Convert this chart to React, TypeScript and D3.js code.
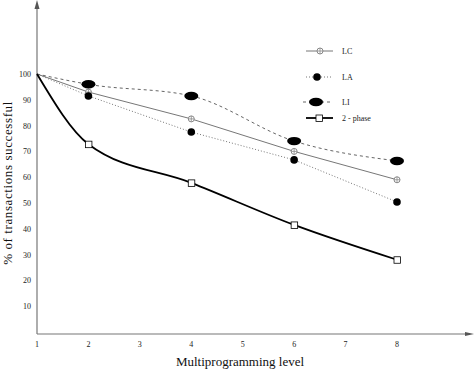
import React from "react";
import * as d3 from "d3";

const levels = [1, 2, 4, 6, 8];
const lcValues = [100, 93, 82.6, 70, 59];
const laValues = [100, 91.5, 77.5, 66.7, 50.4];
const liValues = [100, 96, 91.5, 74, 66.3];
const twoPhaseValues = [100, 72.8, 57.8, 41.5, 28];
const xTicks = [1, 2, 3, 4, 5, 6, 7, 8];
const yTicks = [10, 20, 30, 40, 50, 60, 70, 80, 90, 100];
const legendLabels = ["LC", "LA", "LI", "2 - phase"];

export default function App() {
  const W = 474, H = 369;
  const x = d3.scaleLinear().domain([1, 8]).range([37, 397]);
  const y = d3.scaleLinear().domain([0, 100]).range([332, 74]);
  const axisY = 334;
  const axisX = 37;

  const pts = (vals: number[]) => levels.map((l, i) => [x(l), y(vals[i])] as [number, number]);
  const straight = d3.line();
  const smooth = d3.line().curve(d3.curveMonotoneX);

  const serif = "'Liberation Serif', 'DejaVu Serif', serif";

  const lcMarker = (cx: number, cy: number, k: number) => (
    <g key={k}>
      <circle cx={cx} cy={cy} r={3} fill="white" stroke="#888" strokeWidth={1} />
      <line x1={cx - 3} x2={cx + 3} y1={cy} y2={cy} stroke="#888" strokeWidth={0.8} />
      <line x1={cx} x2={cx} y1={cy - 3} y2={cy + 3} stroke="#888" strokeWidth={0.8} />
    </g>
  );
  const laMarker = (cx: number, cy: number, k: number) => (
    <circle key={k} cx={cx} cy={cy} r={3.8} fill="black" />
  );
  const liMarker = (cx: number, cy: number, k: number) => (
    <ellipse key={k} cx={cx} cy={cy} rx={7} ry={4.2} fill="black" />
  );
  const sqMarker = (cx: number, cy: number, k: number) => (
    <rect key={k} x={cx - 3} y={cy - 3} width={6.5} height={6.5} fill="white" stroke="black" strokeWidth={0.8} />
  );

  const lcPts = pts(lcValues);
  const laPts = pts(laValues);
  const liPts = pts(liValues);
  const tpPts = pts(twoPhaseValues);

  const legendY = [51, 77, 102, 118];

  return (
    <svg width={W} height={H} style={{ position: "absolute", left: 0, top: 0 }}>
      <rect width={W} height={H} fill="white" />
      <line x1={axisX} x2={axisX} y1={4} y2={axisY} stroke="#777" strokeWidth={1.2} />
      <path d={`M${axisX - 2.5},9 L${axisX},0 L${axisX + 2.5},9 Z`} fill="#555" />
      <line x1={axisX} x2={470} y1={axisY} y2={axisY} stroke="#777" strokeWidth={1.2} />
      <path d={`M465,${axisY - 2} L474,${axisY} L465,${axisY + 2} Z`} fill="#555" />

      {yTicks.map((t) => (
        <text key={t} x={31} y={y(t) + 3} fontSize={8} fontFamily={serif} textAnchor="end" fill="#222">
          {t}
        </text>
      ))}
      {xTicks.map((t) => (
        <text key={t} x={x(t)} y={347} fontSize={8} fontFamily={serif} textAnchor="middle" fill="#222">
          {t}
        </text>
      ))}

      <text x={240} y={366} fontSize={13} fontFamily={serif} textAnchor="middle" fill="#111">
        Multiprogramming level
      </text>
      <text
        transform={`translate(12,183) rotate(-90)`}
        fontSize={13}
        fontFamily={serif}
        textAnchor="middle"
        fill="#111"
        letterSpacing={0.6}
      >
        % of transactions successful
      </text>

      <path d={straight(lcPts) || ""} fill="none" stroke="#777" strokeWidth={1} />
      <path d={straight(laPts) || ""} fill="none" stroke="#777" strokeWidth={1} strokeDasharray="1,2" />
      <path d={smooth(liPts) || ""} fill="none" stroke="#666" strokeWidth={1} strokeDasharray="3,3" />
      <path d={smooth(tpPts) || ""} fill="none" stroke="black" strokeWidth={1.8} />

      {lcPts.slice(1).map((p, i) => lcMarker(p[0], p[1], i))}
      {laPts.slice(1).map((p, i) => laMarker(p[0], p[1], i))}
      {liPts.slice(1).map((p, i) => liMarker(p[0], p[1], i))}
      {tpPts.slice(1).map((p, i) => sqMarker(p[0], p[1], i))}

      <line x1={306} x2={333} y1={legendY[0]} y2={legendY[0]} stroke="#777" strokeWidth={1} />
      {lcMarker(320, legendY[0], 100)}
      <line x1={306} x2={333} y1={legendY[1]} y2={legendY[1]} stroke="#777" strokeWidth={1} strokeDasharray="1,2" />
      {laMarker(317, legendY[1], 101)}
      <line x1={303} x2={333} y1={legendY[2]} y2={legendY[2]} stroke="#666" strokeWidth={1} strokeDasharray="3,3" />
      {liMarker(316, legendY[2], 102)}
      <line x1={306} x2={333} y1={legendY[3]} y2={legendY[3]} stroke="black" strokeWidth={1.8} />
      {sqMarker(319, legendY[3], 103)}
      {legendLabels.map((l, i) => (
        <text key={l} x={342} y={legendY[i] + 3} fontSize={8} fontFamily={serif} fill="#222">
          {l}
        </text>
      ))}
    </svg>
  );
}
